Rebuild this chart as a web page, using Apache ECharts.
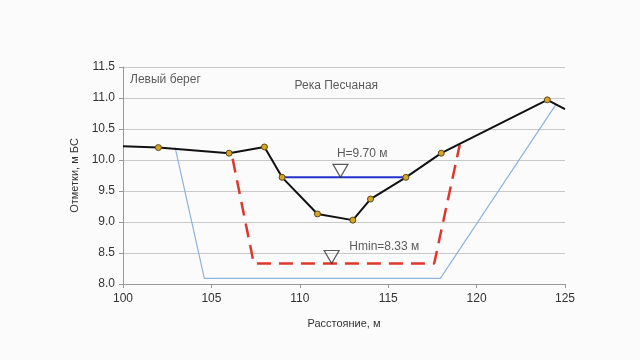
<!DOCTYPE html>
<html>
<head>
<meta charset="utf-8">
<script src="https://cdn.jsdelivr.net/npm/echarts@6/dist/echarts.min.js"></script>
<style>html,body{margin:0;padding:0;background:#fbfbfb;}#c{width:640px;height:360px;}</style>
</head>
<body>
<div id="c"></div>
<script>
// Ground profile (distance, elevation); first and last have no marker
const groundX = [100, 102, 106, 108, 109, 111, 113, 114, 116, 118, 124, 125];
const groundY = [10.22, 10.2, 10.11, 10.21, 9.72, 9.13, 9.03, 9.37, 9.72, 10.11, 10.97, 10.82];
const groundMarked = [false, true, true, true, true, true, true, true, true, true, true, false];
// Water level
const waterX = [109, 116];
const waterY = [9.72, 9.72];
const waterLabel = 'H=9.70 м';
const waterTriX = 112.3;
// Minimum level (red dashed)
const minX = [106.2, 107.4, 117.6, 119.05];
const minY = [10.02, 8.33, 8.33, 10.25];
const minLabel = 'Hmin=8.33 м';
const minTriX = 111.8;
// Design section (light blue)
const designX = [102.95, 104.6, 117.95, 124.5];
const designY = [10.2, 8.09, 8.09, 10.9];
// Text annotations (anchored at left edge, vertical centre)
const notes = [
  {x: 100.4, y: 11.3, text: 'Левый берег'},
  {x: 109.7, y: 11.2, text: 'Река Песчаная'},
  {x: 112.1, y: 10.1, text: waterLabel},
  {x: 112.8, y: 8.6, text: minLabel}
];
const xTicks = {min: 100, max: 125, step: 5};
const yTicks = {min: 8, max: 11.5, step: 0.5};

const zip = (xs, ys) => xs.map((x, i) => [x, ys[i]]);
const chart = echarts.init(document.getElementById('c'));
const txtColor = '#333';
chart.setOption({
  backgroundColor: '#fbfbfb',
  animation: false,
  grid: {left: 123, right: 75, top: 67, bottom: 76},
  xAxis: {
    type: 'value', min: xTicks.min, max: xTicks.max, interval: xTicks.step,
    name: 'Расстояние, м', nameLocation: 'middle', nameGap: 34,
    nameTextStyle: {fontFamily: 'Liberation Sans', fontSize: 11, color: txtColor},
    axisLine: {show: true, lineStyle: {color: '#999'}},
    axisTick: {show: true, length: 4, lineStyle: {color: '#999'}},
    axisLabel: {fontFamily: 'Liberation Sans', fontSize: 12, color: txtColor, margin: 9},
    splitLine: {show: false}
  },
  yAxis: {
    type: 'value', min: yTicks.min, max: yTicks.max, interval: yTicks.step,
    name: 'Отметки, м БС', nameLocation: 'middle', nameGap: 30, nameRotate: 90,
    nameTextStyle: {fontFamily: 'Liberation Sans', fontSize: 11, color: txtColor},
    axisLine: {show: true, lineStyle: {color: '#999'}},
    axisTick: {show: true, length: 4, lineStyle: {color: '#999'}},
    axisLabel: {fontFamily: 'Liberation Sans', fontSize: 12, color: txtColor, margin: 8,
      formatter: v => v.toFixed(1)},
    splitLine: {show: true, lineStyle: {color: '#c8c8c8', width: 1}}
  },
  series: [
    {
      type: 'line', data: zip(designX, designY), symbol: 'none', z: 1,
      lineStyle: {color: '#8fb3d9', width: 1.2}
    },
    {
      type: 'line', data: zip(minX, minY), symbol: 'none', z: 2,
      lineStyle: {color: '#e0372b', width: 2.5, type: [14, 8]}
    },
    {
      type: 'line', data: zip(waterX, waterY), symbol: 'none', z: 3,
      lineStyle: {color: '#2233cc', width: 2}
    },
    {
      type: 'line', z: 4,
      data: groundX.map((x, i) => ({value: [x, groundY[i]], symbol: groundMarked[i] ? 'circle' : 'none'})),
      symbolSize: 6,
      itemStyle: {color: '#d9a520', borderColor: '#5a4a20', borderWidth: 1},
      lineStyle: {color: '#111', width: 2}
    },
    {
      type: 'scatter', z: 5,
      symbol: 'triangle', symbolRotate: 180, symbolSize: [15, 13],
      symbolOffset: [0, -6.5],
      itemStyle: {color: 'rgba(255,255,255,0)', borderColor: '#333', borderWidth: 1.2},
      data: [[waterTriX, waterY[0]], [minTriX, minY[1]]]
    },
    {
      type: 'scatter', z: 6, symbol: 'circle', symbolSize: 0,
      itemStyle: {color: 'rgba(0,0,0,0)'},
      label: {show: true, position: 'right', distance: 0,
        fontFamily: 'Liberation Sans', fontSize: 12, color: txtColor,
        formatter: p => p.data.text},
      data: notes.map(n => ({value: [n.x, n.y], text: n.text}))
    }
  ]
});
</script>
</body>
</html>
